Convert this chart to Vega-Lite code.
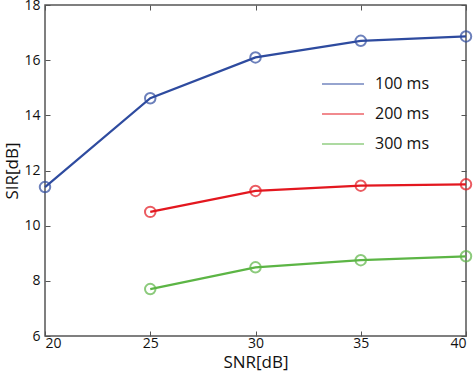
{
  "$schema": "https://vega.github.io/schema/vega-lite/v6.json",
  "width": 421,
  "height": 331,
  "autosize": {"type": "none"},
  "padding": {"left": 45, "top": 5, "right": 8, "bottom": 41},
  "background": "white",
  "config": {
    "font": "Open Sans",
    "view": {"stroke": "#555555", "strokeWidth": 1.5},
    "axis": {
      "grid": false,
      "domain": false,
      "tickColor": "#555555",
      "tickSize": -5,
      "tickWidth": 1,
      "labelFont": "Open Sans",
      "labelFontSize": 14,
      "labelColor": "#111111",
      "titleFont": "Open Sans",
      "titleFontSize": 17,
      "titleFontWeight": "normal",
      "titleColor": "#111111"
    }
  },
  "data": {
    "values": [
      {"snr": 20, "sir": 11.4, "series": "100 ms"},
      {"snr": 25, "sir": 14.62, "series": "100 ms"},
      {"snr": 30, "sir": 16.1, "series": "100 ms"},
      {"snr": 35, "sir": 16.7, "series": "100 ms"},
      {"snr": 40, "sir": 16.86, "series": "100 ms"},
      {"snr": 25, "sir": 10.5, "series": "200 ms"},
      {"snr": 30, "sir": 11.26, "series": "200 ms"},
      {"snr": 35, "sir": 11.45, "series": "200 ms"},
      {"snr": 40, "sir": 11.5, "series": "200 ms"},
      {"snr": 25, "sir": 7.7, "series": "300 ms"},
      {"snr": 30, "sir": 8.49, "series": "300 ms"},
      {"snr": 35, "sir": 8.75, "series": "300 ms"},
      {"snr": 40, "sir": 8.89, "series": "300 ms"}
    ]
  },
  "layer": [
    {
      "encoding": {
        "x": {"field": "snr", "type": "quantitative", "scale": {"domain": [20, 40], "nice": false},
              "axis": {"values": [20, 25, 30, 35, 40], "title": "SNR[dB]", "labelPadding": 5, "titlePadding": 4}},
        "y": {"field": "sir", "type": "quantitative", "scale": {"domain": [6, 18], "nice": false, "zero": false},
              "axis": {"values": [6, 8, 10, 12, 14, 16, 18], "title": "SIR[dB]", "labelPadding": 10, "titlePadding": 2}}
      },
      "layer": [
        {
          "mark": {"type": "line", "strokeWidth": 2.2},
          "encoding": {
            "color": {"field": "series", "type": "nominal",
                      "scale": {"domain": ["100 ms", "200 ms", "300 ms"], "range": ["#2e4b9f", "#e3171f", "#5cb545"]},
                      "legend": {"orient": "none", "legendX": 276, "legendY": 57, "title": null, "padding": 0,
                                 "symbolType": "stroke", "symbolSize": 1764, "symbolStrokeWidth": 1.2,
                                 "labelFontSize": 16, "labelFont": "Open Sans", "labelColor": "#111111",
                                 "rowPadding": -19, "labelOffset": 10}}
          }
        },
        {
          "mark": {"type": "point", "filled": false, "size": 110, "strokeWidth": 2},
          "encoding": {
            "stroke": {"field": "series", "type": "nominal",
                       "scale": {"domain": ["100 ms", "200 ms", "300 ms"], "range": ["#2e4b9f", "#e3171f", "#5cb545"]},
                       "legend": null}
          }
        }
      ]
    },
    {
      "mark": {"type": "point", "opacity": 0},
      "encoding": {
        "x": {"field": "snr", "type": "quantitative", "scale": {"domain": [20, 40], "nice": false},
              "axis": {"orient": "top", "values": [20, 25, 30, 35, 40], "labels": false, "title": null}},
        "y": {"field": "sir", "type": "quantitative", "scale": {"domain": [6, 18], "nice": false, "zero": false},
              "axis": {"orient": "right", "values": [6, 8, 10, 12, 14, 16, 18], "labels": false, "title": null}}
      }
    }
  ],
  "resolve": {"scale": {"x": "independent", "y": "independent"}, "axis": {"x": "independent", "y": "independent"}}
}
